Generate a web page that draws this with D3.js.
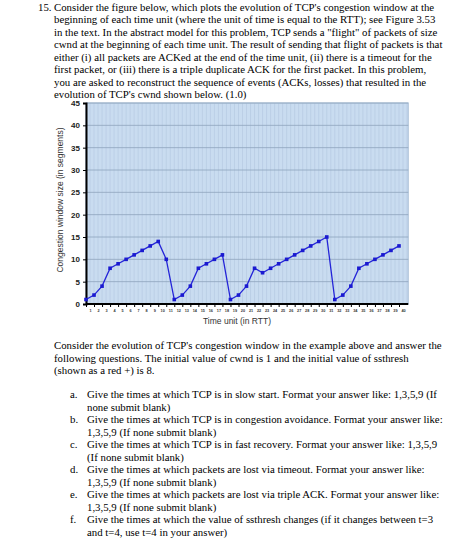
<!DOCTYPE html>
<html lang="en">
<head>
<style>
  body { margin: 0; background: #fff; }
  .para { font-family: "Liberation Serif", serif; }
  .ax text, .lbl { font-family: "Liberation Sans", sans-serif; }
</style>
</head>
<body>
<script src="https://cdn.jsdelivr.net/npm/d3@7"></script>
<script>
var times = d3.range(1, 41);
var cwnd = [1, 2, 4, 8, 9, 10, 11, 12, 13, 14, 10, 1, 2, 4, 8, 9, 10, 11, 1, 2,
            4, 8, 7, 8, 9, 10, 11, 12, 13, 14, 15, 1, 2, 4, 8, 9, 10, 11, 12, 13];
var yTicks = [0, 5, 10, 15, 20, 25, 30, 35, 40, 45];

var topLines = [
  "Consider the figure below, which plots the evolution of TCP's congestion window at the",
  "beginning of each time unit (where the unit of time is equal to the RTT); see Figure 3.53",
  "in the text. In the abstract model for this problem, TCP sends a \"flight\" of packets of size",
  "cwnd at the beginning of each time unit. The result of sending that flight of packets is that",
  "either (i) all packets are ACKed at the end of the time unit, (ii) there is a timeout for the",
  "first packet, or (iii) there is a triple duplicate ACK for the first packet. In this problem,",
  "you are asked to reconstruct the sequence of events (ACKs, losses) that resulted in the",
  "evolution of TCP's cwnd shown below. (1.0)"
];
var midLines = [
  "Consider the evolution of TCP's congestion window in the example above and answer the",
  "following questions. The initial value of cwnd is 1 and the initial value of ssthresh",
  "(shown as a red +) is 8."
];
var items = [
  ["a.", "Give the times at which TCP is in slow start. Format your answer like: 1,3,5,9 (If", "none submit blank)"],
  ["b.", "Give the times at which TCP is in congestion avoidance. Format your answer like:", "1,3,5,9 (If none submit blank)"],
  ["c.", "Give the times at which TCP is in fast recovery. Format your answer like: 1,3,5,9", "(If none submit blank)"],
  ["d.", "Give the times at which packets are lost via timeout. Format your answer like:", "1,3,5,9 (If none submit blank)"],
  ["e.", "Give the times at which packets are lost via triple ACK. Format your answer like:", "1,3,5,9 (If none submit blank)"],
  ["f.", "Give the times at which the value of ssthresh changes (if it changes between t=3", "and t=4, use t=4 in your answer)"]
];

var svg = d3.select("body").append("svg").attr("width", 474).attr("height", 541);
var fs = 10.8;

function para(xp, yp, s) {
  return svg.append("text").attr("class", "para").attr("x", xp).attr("y", yp).attr("font-size", fs).text(s);
}
para(38, 11, "15.");
topLines.forEach(function(l, i) { para(54, 11 + i * 12.45, l); });
midLines.forEach(function(l, i) { para(54, 349 + i * 12.5, l); });
items.forEach(function(it, i) {
  var yy = 398 + i * 25;
  para(70, yy, it[0]);
  para(87, yy, it[1]);
  para(87, yy + 12.5, it[2]);
});

// chart
var x = d3.scaleLinear().domain([1, 40]).range([86, 399]);
var y = d3.scaleLinear().domain([0, 45]).range([304, 103]);
var x0 = 86, x1 = x(41.15);

svg.append("rect").attr("x", x0).attr("y", y(45)).attr("width", x1 - x0).attr("height", y(0) - y(45))
  .attr("fill", "#c9dcf0").attr("stroke", "#a8bdd6");

svg.append("g").selectAll("line").data(d3.range(1, 41.2, 0.5)).join("line")
  .attr("x1", function(d) { return x(d); }).attr("x2", function(d) { return x(d); })
  .attr("y1", y(45)).attr("y2", y(0))
  .attr("stroke", "#afc3dc").attr("stroke-width", 0.5);
svg.append("g").selectAll("line").data(yTicks).join("line")
  .attr("x1", x0).attr("x2", x1)
  .attr("y1", function(d) { return y(d); }).attr("y2", function(d) { return y(d); })
  .attr("stroke", "#8ea3bd").attr("stroke-width", 0.8);

var yAxis = svg.append("g").attr("class", "ax").attr("transform", "translate(" + x0 + ",0)")
  .call(d3.axisLeft(y).tickValues(yTicks).tickSize(3));
yAxis.select(".domain").attr("stroke-width", 2);
yAxis.selectAll("text").attr("font-weight", "bold").attr("font-size", 8).attr("fill", "#222");

var xAxis = svg.append("g").attr("class", "ax").attr("transform", "translate(0," + y(0) + ")")
  .call(d3.axisBottom(x).tickValues(times).tickSize(3).tickFormat(function(d) { return d; }));
xAxis.select(".domain").attr("stroke-width", 2).attr("d", "M" + x0 + ",0H" + x1);
xAxis.selectAll(".tick text").attr("x", 4).attr("dy", "0.45em")
  .attr("font-weight", "bold").attr("font-size", 3.8).attr("fill", "#333");

var line = d3.line().x(function(d, i) { return x(times[i]); }).y(function(d) { return y(d); });
svg.append("path").datum(cwnd).attr("d", line).attr("fill", "none").attr("stroke", "#2424d8").attr("stroke-width", 1.3);
svg.append("g").selectAll("rect").data(cwnd).join("rect")
  .attr("x", function(d, i) { return x(times[i]) - 1.8; }).attr("y", function(d) { return y(d) - 1.8; })
  .attr("width", 3.6).attr("height", 3.6).attr("fill", "#1a1ad0");

svg.append("text").attr("class", "lbl").attr("x", 237).attr("y", 324).attr("text-anchor", "middle")
  .attr("font-size", 8.5).attr("fill", "#333").text("Time unit (in RTT)");
svg.append("text").attr("class", "lbl").attr("transform", "translate(63,200) rotate(-90)").attr("text-anchor", "middle")
  .attr("font-size", 8.5).attr("fill", "#333").text("Congestion window size (in segments)");
</script>
</body>
</html>
